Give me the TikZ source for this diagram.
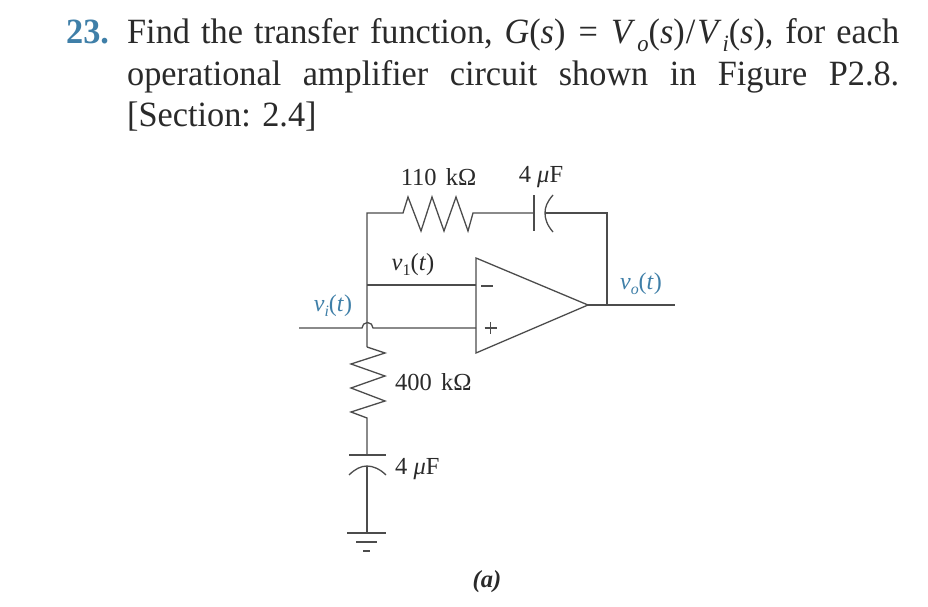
\documentclass[tikz,border=0pt]{standalone}
\usepackage{fontspec}
\setmainfont{Liberation Serif}
\newfontfamily\headfont[FakeStretch=0.965]{Liberation Serif}
\definecolor{ink}{HTML}{2A2A2A}
\definecolor{wire}{HTML}{4C4C4C}
\definecolor{eqblue}{HTML}{3F7FA8}
\newcommand{\lsub}[1]{\raisebox{-0.2em}{\scalebox{0.66}{#1}}}
\tikzset{
  x=1pt,y=-1pt,
  wireline/.style={draw=wire,line width=1.3pt,line join=miter},
  headline/.style={anchor=base west,inner sep=0pt,text=ink,font=\fontsize{35.5}{36}\headfont},
  partlabel/.style={inner sep=0pt,text=ink,font=\fontsize{24.5}{26}\selectfont},
  siglabel/.style={inner sep=0pt,font=\fontsize{24}{26}\selectfont},
}
\begin{document}
\begin{tikzpicture}
\useasboundingbox (0,0) rectangle (928,607);
\fill[white] (0,0) rectangle (928,607);
% text
\node[headline,text=eqblue,font=\fontsize{35.5}{36}\headfont\bfseries] (num) at (66,44) {23.};
\node[headline] (l1) at (127,44) {\makebox[772pt][s]{Find the transfer function, \textit{G}(\textit{s})\kern2pt\ =\kern2pt\ \textit{V}\kern2pt\lsub{\textit{o}}(\textit{s})\kern1pt/\kern2pt\textit{V}\kern1pt\lsub{\textit{i}}(\textit{s}), for each}};
\node[headline] (l2) at (127,85.5) {\makebox[772pt][s]{operational amplifier circuit shown in Figure P2.8.}};
\node[headline] (l3) at (127,127) {[Section: 2.4]};
% named points
\coordinate (tl) at (367,213);
\coordinate (rs) at (403,213);
\coordinate (re) at (473,213);
\coordinate (cp) at (534,213);
\coordinate (cc) at (545,213);
\coordinate (tr) at (607,213);
\coordinate (A) at (476,258);
\coordinate (B) at (476,353);
\coordinate (C) at (588,305);
\coordinate (om) at (476,285);
\coordinate (op) at (476,328);
\coordinate (jm) at (367,285);
\coordinate (in) at (299,328);
\coordinate (hl) at (362,328);
\coordinate (hr) at (373,328);
\coordinate (jo) at (607,305);
\coordinate (out) at (675,305);
\coordinate (rt) at (367,347);
\coordinate (rb) at (367,418);
\coordinate (c1) at (367,455);
\coordinate (c2) at (367,466);
\coordinate (g) at (367,533);
% opamp
\draw[wireline] (A) -- (C) -- (B) -- cycle;
\draw[wireline] (481,286) -- (493,286);
\draw[wireline] (484.5,328) -- (496.5,328) (490.5,322) -- (490.5,334);
% feedback
\draw[wireline] (rt) -- (tl) -- (rs) -- (408,197) -- (421,231) -- (432,197) -- (444,231) -- (456,197) -- (468,231) -- (re) -- (cp);
\draw[wireline] (cp) ++(0,-18) -- ++(0,36);
\draw[wireline] (553,195) .. controls (547,202) and (545,207) .. (cc) .. controls (545,219) and (547,225) .. (553,232);
\draw[wireline] (cc) -- (tr) -- (jo);
\draw[wireline] (jm) -- (om);
\draw[wireline] (in) -- (hl) arc[start angle=180,end angle=360,radius=5.5] -- (op);
\draw[wireline] (C) -- (out);
% shunt branch
\draw[wireline] (rt) -- (385,353) -- (351,364) -- (385,376) -- (351,388) -- (385,401) -- (351,412) -- (rb) -- (c1);
\draw[wireline] (349,455) -- (386,455);
\draw[wireline] (349,475) .. controls (355,469) and (361,466) .. (c2) .. controls (373,466) and (380,469) .. (386,475);
\draw[wireline] (c2) -- (g);
\draw[wireline] (347,533) -- (386,533);
\draw[wireline] (356,542) -- (377,542);
\draw[wireline] (363,551) -- (370,551);
% labels
\node[partlabel] (r1) at (438.5,177) {110\kern3pt\ kΩ};
\node[partlabel] (c1l) at (541,177) {4 \textit{μ}F};
\node[partlabel] (v1) at (413,265) {\textit{v}\lsub{1}(\textit{t})};
\node[siglabel,text=eqblue] (vi) at (333,306) {\textit{v}\lsub{\textit{i}}(\textit{t})};
\node[siglabel,text=eqblue] (vo) at (641,284) {\textit{v}\lsub{\textit{o}}(\textit{t})};
\node[partlabel,anchor=west] (r2) at (395,382) {400\kern3pt\ kΩ};
\node[partlabel,anchor=west] (c2l) at (395,469) {4 \textit{μ}F};
\node[partlabel,font=\fontsize{24.5}{26}\selectfont\bfseries\itshape] (cap) at (487,582) {(\textit{a})};
\end{tikzpicture}
\end{document}
